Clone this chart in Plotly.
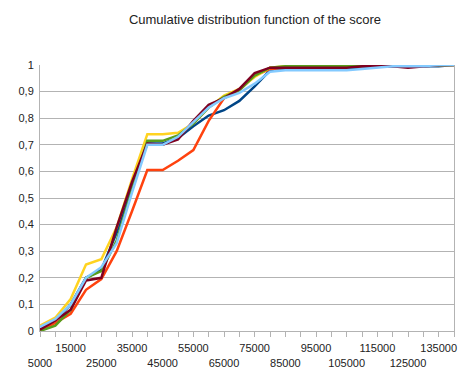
import plotly.graph_objects as go

scores = list(range(5000, 140001, 5000))

dark_blue = [0.005, 0.04, 0.10, 0.20, 0.23, 0.37, 0.55, 0.705, 0.705, 0.725, 0.77, 0.81, 0.83, 0.865,
             0.92, 0.98, 0.985, 0.985, 0.985, 0.985, 0.985, 0.99, 0.995, 0.995, 0.995, 0.995, 0.995, 1.0]
orange = [0.0, 0.03, 0.065, 0.155, 0.195, 0.30, 0.45, 0.605, 0.605, 0.64, 0.68, 0.79, 0.875, 0.905,
          0.96, 0.985, 0.99, 0.995, 0.995, 0.995, 0.995, 0.995, 1.0, 1.0, 1.0, 1.0, 1.0, 1.0]
yellow = [0.02, 0.05, 0.12, 0.25, 0.27, 0.39, 0.57, 0.74, 0.74, 0.745, 0.78, 0.84, 0.885, 0.91,
          0.955, 0.99, 0.995, 0.997, 0.997, 0.997, 0.997, 0.997, 1.0, 1.0, 1.0, 1.0, 1.0, 1.0]
green = [0.0, 0.02, 0.08, 0.20, 0.225, 0.34, 0.53, 0.715, 0.715, 0.735, 0.78, 0.84, 0.88, 0.905,
         0.96, 0.99, 0.995, 0.995, 0.995, 0.995, 0.995, 0.997, 1.0, 1.0, 1.0, 1.0, 1.0, 1.0]
maroon = [0.005, 0.04, 0.08, 0.19, 0.20, 0.39, 0.56, 0.705, 0.70, 0.72, 0.79, 0.85, 0.875, 0.91,
          0.97, 0.99, 0.99, 0.99, 0.99, 0.99, 0.99, 0.995, 0.995, 0.995, 0.99, 0.995, 1.0, 1.0]
light_blue = [0.015, 0.045, 0.10, 0.20, 0.24, 0.33, 0.52, 0.70, 0.70, 0.73, 0.785, 0.84, 0.875, 0.895,
              0.93, 0.975, 0.98, 0.98, 0.98, 0.98, 0.98, 0.985, 0.99, 0.995, 0.995, 0.995, 1.0, 1.0]

series = [
    ("Series 1", dark_blue, "#004586"),
    ("Series 2", orange, "#ff420e"),
    ("Series 3", yellow, "#ffd320"),
    ("Series 4", green, "#579d1c"),
    ("Series 5", maroon, "#7e0021"),
    ("Series 6", light_blue, "#83caff"),
]

label_vals = list(range(5000, 135001, 10000))
label_text = [("\u00a0<br>" + str(v)) if i % 2 == 0 else str(v) for i, v in enumerate(label_vals)]
y_vals = [i / 10 for i in range(11)]
y_text = ["0"] + ["0,%d" % i for i in range(1, 10)] + ["1"]

fig = go.Figure()
for name, vals, color in series:
    fig.add_trace(go.Scatter(x=scores, y=vals, mode="lines", name=name,
                             line=dict(color=color, width=2.5)))

W, H = 466, 377
axis_grey = "#b3b3b3"
fig.update_layout(
    width=W, height=H,
    margin=dict(l=32, r=20, t=57, b=54, autoexpand=False),
    paper_bgcolor="white", plot_bgcolor="white",
    showlegend=False,
    font=dict(family="Liberation Sans, Arial, sans-serif", size=11, color="#222222"),
    title=dict(text="Cumulative distribution function of the score",
               x=247 / W, xanchor="center", xref="container",
               y=1 - 11 / H, yanchor="middle", yref="container",
               font=dict(size=13, color="#222222")),
    xaxis=dict(range=[5000, 140000], tickmode="array", tickvals=label_vals, ticktext=label_text,
               tickangle=0, automargin=False, ticklabelstandoff=2,
               showgrid=False, zeroline=False, showline=True, linecolor=axis_grey, linewidth=1,
               ticks="outside", ticklen=5, tickcolor=axis_grey,
               minor=dict(tickmode="array", tickvals=scores, ticks="outside", ticklen=5,
                          tickcolor=axis_grey, showgrid=False)),
    yaxis=dict(range=[0, 1], tickmode="array", tickvals=y_vals, ticktext=y_text,
               automargin=False,
               showgrid=True, gridcolor=axis_grey, gridwidth=1, zeroline=False,
               showline=True, mirror=True, linecolor=axis_grey, linewidth=1,
               ticks="", ticklabelstandoff=3),
)

fig.write_html("out.html")
